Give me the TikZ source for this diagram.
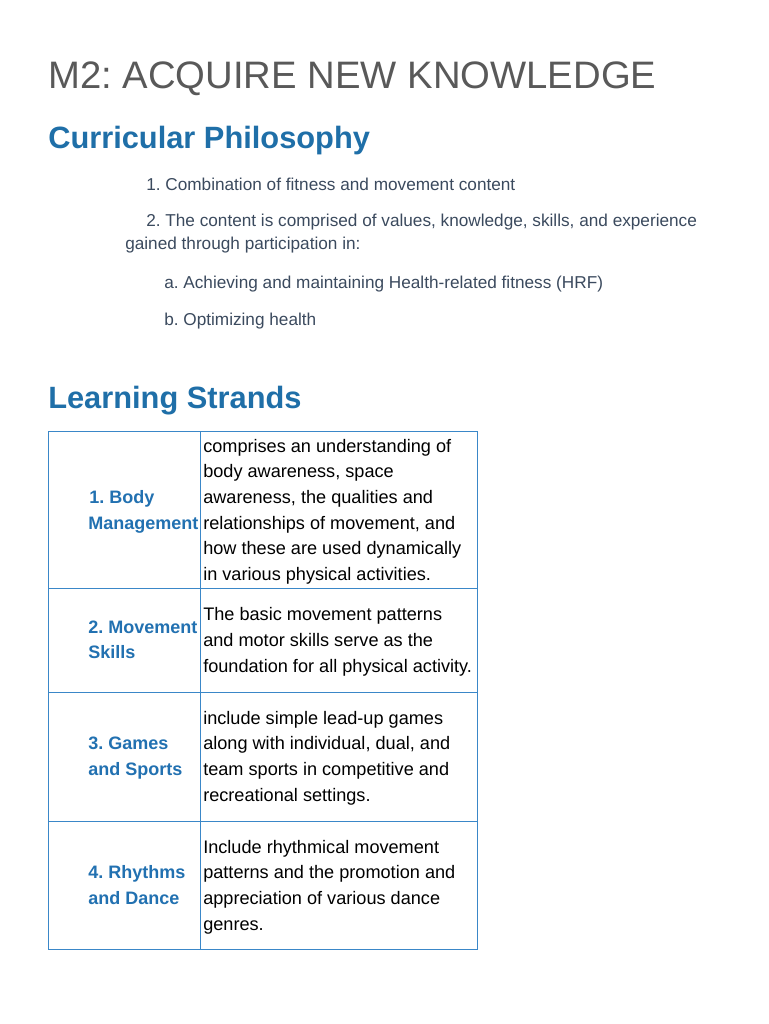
\documentclass[tikz,border=0pt]{standalone}
\usepackage{fontspec}
\setmainfont{Liberation Sans}
\definecolor{ttl}{HTML}{595959}
\definecolor{hd}{HTML}{1F6FA8}
\definecolor{bd}{HTML}{3B4A5E}
\definecolor{cellb}{HTML}{2271B1}
\definecolor{brd}{HTML}{3A87C8}
\begin{document}
\frenchspacing
\begin{tikzpicture}[x=0.75pt,y=-0.75pt,
  t/.style={anchor=base west,inner sep=0pt},
  body/.style={t,text=bd,font=\fontsize{12.9}{15}\selectfont},
  cell/.style={t,text=black,font=\fontsize{13.6}{15}\selectfont},
  lcell/.style={t,text=cellb,font=\fontsize{13.5}{15}\selectfont\bfseries},
  hdg/.style={t,text=hd,font=\fontsize{23.1}{26}\selectfont\bfseries}]
\useasboundingbox[fill=white] (0,0) rectangle (768,1024);
\node[t,text=ttl,font=\fontsize{28.7}{32}\selectfont] (title) at (48,89) {M2: ACQUIRE NEW KNOWLEDGE};
\node[hdg] (h1) at (48,148) {Curricular Philosophy};
\node[body] (p1) at (146,190) {1. Combination of fitness and movement content};
\node[body] (p2) at (146,226) {2. The content is comprised of values, knowledge, skills, and experience};
\node[body] (p3) at (125,249) {gained through participation in:};
\node[body] (p4) at (164,288) {a. Achieving and maintaining Health-related fitness (HRF)};
\node[body] (p5) at (164,325) {b. Optimizing health};
\node[hdg] (h2) at (48,408) {Learning Strands};
% table
\draw[brd,line width=0.7pt] (48,431) rectangle (477,949);
\foreach \yy in {588,692,821} \draw[brd,line width=0.7pt] (48,\yy) -- (477,\yy);
\draw[brd,line width=0.7pt] (200,431) -- (200,949);
\node[lcell] (l1a) at (89,503) {1. Body};
\node[lcell] (l1b) at (88,529) {Management};
\node[cell] (r1a) at (203,452) {comprises an understanding of};
\node[cell] (r1b) at (203,477) {body awareness, space};
\node[cell] (r1c) at (203,503) {awareness, the qualities and};
\node[cell] (r1d) at (203,529) {relationships of movement, and};
\node[cell] (r1e) at (203,554) {how these are used dynamically};
\node[cell] (r1f) at (203,580) {in various physical activities.};
\node[lcell] (l2a) at (88,633) {2. Movement};
\node[lcell] (l2b) at (88,658) {Skills};
\node[cell] (r2a) at (203,620) {The basic movement patterns};
\node[cell] (r2b) at (203,646) {and motor skills serve as the};
\node[cell] (r2c) at (203,672) {foundation for all physical activity.};
\node[lcell] (l3a) at (88,749) {3. Games};
\node[lcell] (l3b) at (88,775) {and Sports};
\node[cell] (r3a) at (203,724) {include simple lead-up games};
\node[cell] (r3b) at (203,749) {along with individual, dual, and};
\node[cell] (r3c) at (203,775) {team sports in competitive and};
\node[cell] (r3d) at (203,801) {recreational settings.};
\node[lcell] (l4a) at (88,878) {4. Rhythms};
\node[lcell] (l4b) at (88,904) {and Dance};
\node[cell] (r4a) at (203,853) {Include rhythmical movement};
\node[cell] (r4b) at (203,878) {patterns and the promotion and};
\node[cell] (r4c) at (203,904) {appreciation of various dance};
\node[cell] (r4d) at (203,930) {genres.};
\end{tikzpicture}
\end{document}
